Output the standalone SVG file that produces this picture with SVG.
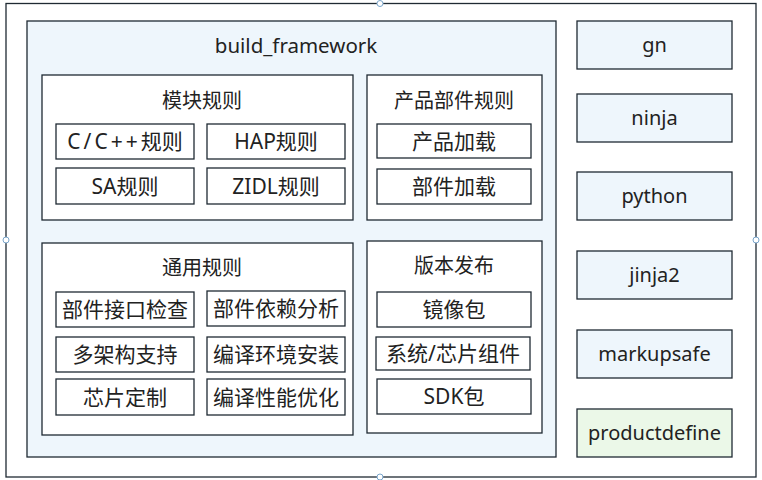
<svg xmlns="http://www.w3.org/2000/svg" width="762" height="480" viewBox="0 0 762 480">
<style>
.frame{fill:#fff;stroke:#1f2a33;stroke-width:1.3}
.blue{fill:#eef6fc;stroke:#1f2a33;stroke-width:1.3}
.green{fill:#ebf8e8;stroke:#1f2a33;stroke-width:1.3}
.white{fill:#fff;stroke:#1f2a33;stroke-width:1.3}
.h{fill:#fff;stroke:#7aa6cc;stroke-width:1}
text{font-family:"Noto Sans","Noto Sans CJK SC",sans-serif;font-size:20px;fill:#222;text-anchor:middle}
.s{font-size:21px}
</style>
<rect class="frame" x="6" y="3.5" width="750" height="473.5"/>
<g id="handles">
<circle class="h" cx="380" cy="3.5" r="3"/>
<circle class="h" cx="6" cy="240" r="3"/>
<circle class="h" cx="756" cy="240" r="3"/>
<circle class="h" cx="380" cy="477" r="3"/>
</g>
<g id="build_framework">
<rect class="blue" x="27" y="21" width="529" height="436"/>
<text x="296" y="53" style="font-size:20.5px">build_framework</text>
</g>
<g id="module_rules">
<rect class="white" x="42" y="75" width="311" height="145"/>
<text x="202" y="108">模块规则</text>
<g id="cc_rule"><rect class="white" x="56" y="124" width="138" height="35"/><text class="s" x="125" y="149"><tspan letter-spacing="3">C/C++</tspan>规则</text></g>
<g id="hap_rule"><rect class="white" x="207" y="124" width="138" height="35"/><text class="s" x="276" y="149">HAP规则</text></g>
<g id="sa_rule"><rect class="white" x="56" y="168" width="138" height="36"/><text class="s" x="125" y="193.5">SA规则</text></g>
<g id="zidl_rule"><rect class="white" x="207" y="168" width="138" height="36"/><text class="s" x="276" y="193.5">ZIDL规则</text></g>
</g>
<g id="product_part_rules">
<rect class="white" x="367" y="75" width="175" height="145"/>
<text x="454" y="108">产品部件规则</text>
<g id="product_load"><rect class="white" x="377" y="124" width="154" height="34"/><text class="s" x="454" y="148.5">产品加载</text></g>
<g id="part_load"><rect class="white" x="377" y="169" width="154" height="35"/><text class="s" x="454" y="194">部件加载</text></g>
</g>
<g id="common_rules">
<rect class="white" x="42" y="243" width="311" height="192"/>
<text x="202" y="275">通用规则</text>
<g id="c1"><rect class="white" x="56" y="292" width="138" height="35"/><text class="s" x="125" y="317">部件接口检查</text></g>
<g id="c2"><rect class="white" x="207" y="291" width="138" height="35"/><text class="s" x="276" y="316">部件依赖分析</text></g>
<g id="c3"><rect class="white" x="56" y="337" width="138" height="35"/><text class="s" x="125" y="362">多架构支持</text></g>
<g id="c4"><rect class="white" x="207" y="337" width="138" height="35"/><text class="s" x="276" y="362">编译环境安装</text></g>
<g id="c5"><rect class="white" x="56" y="379" width="138" height="36"/><text class="s" x="125" y="404.5">芯片定制</text></g>
<g id="c6"><rect class="white" x="207" y="379" width="138" height="36"/><text class="s" x="276" y="404.5">编译性能优化</text></g>
</g>
<g id="release">
<rect class="white" x="367" y="241" width="175" height="192"/>
<text x="454" y="273">版本发布</text>
<g id="image_pkg"><rect class="white" x="377" y="292" width="154" height="35"/><text class="s" x="454" y="317">镜像包</text></g>
<g id="sys_chip"><rect class="white" x="376" y="337" width="154" height="33"/><text class="s" x="453" y="361">系统/芯片组件</text></g>
<g id="sdk_pkg"><rect class="white" x="377" y="379" width="154" height="35"/><text class="s" x="454" y="404">SDK包</text></g>
</g>
<g id="gn"><rect class="blue" x="577" y="21" width="155" height="48"/><text x="654.5" y="52">gn</text></g>
<g id="ninja"><rect class="blue" x="577" y="94" width="155" height="48"/><text x="654.5" y="125">ninja</text></g>
<g id="python"><rect class="blue" x="577" y="172" width="155" height="48"/><text x="654.5" y="203">python</text></g>
<g id="jinja2"><rect class="blue" x="577" y="251" width="155" height="48"/><text x="654.5" y="282">jinja2</text></g>
<g id="markupsafe"><rect class="blue" x="577" y="330" width="155" height="48"/><text x="654.5" y="361">markupsafe</text></g>
<g id="productdefine"><rect class="green" x="577" y="409" width="155" height="48"/><text x="654.5" y="440">productdefine</text></g>
<g id="connectors"/>
</svg>
